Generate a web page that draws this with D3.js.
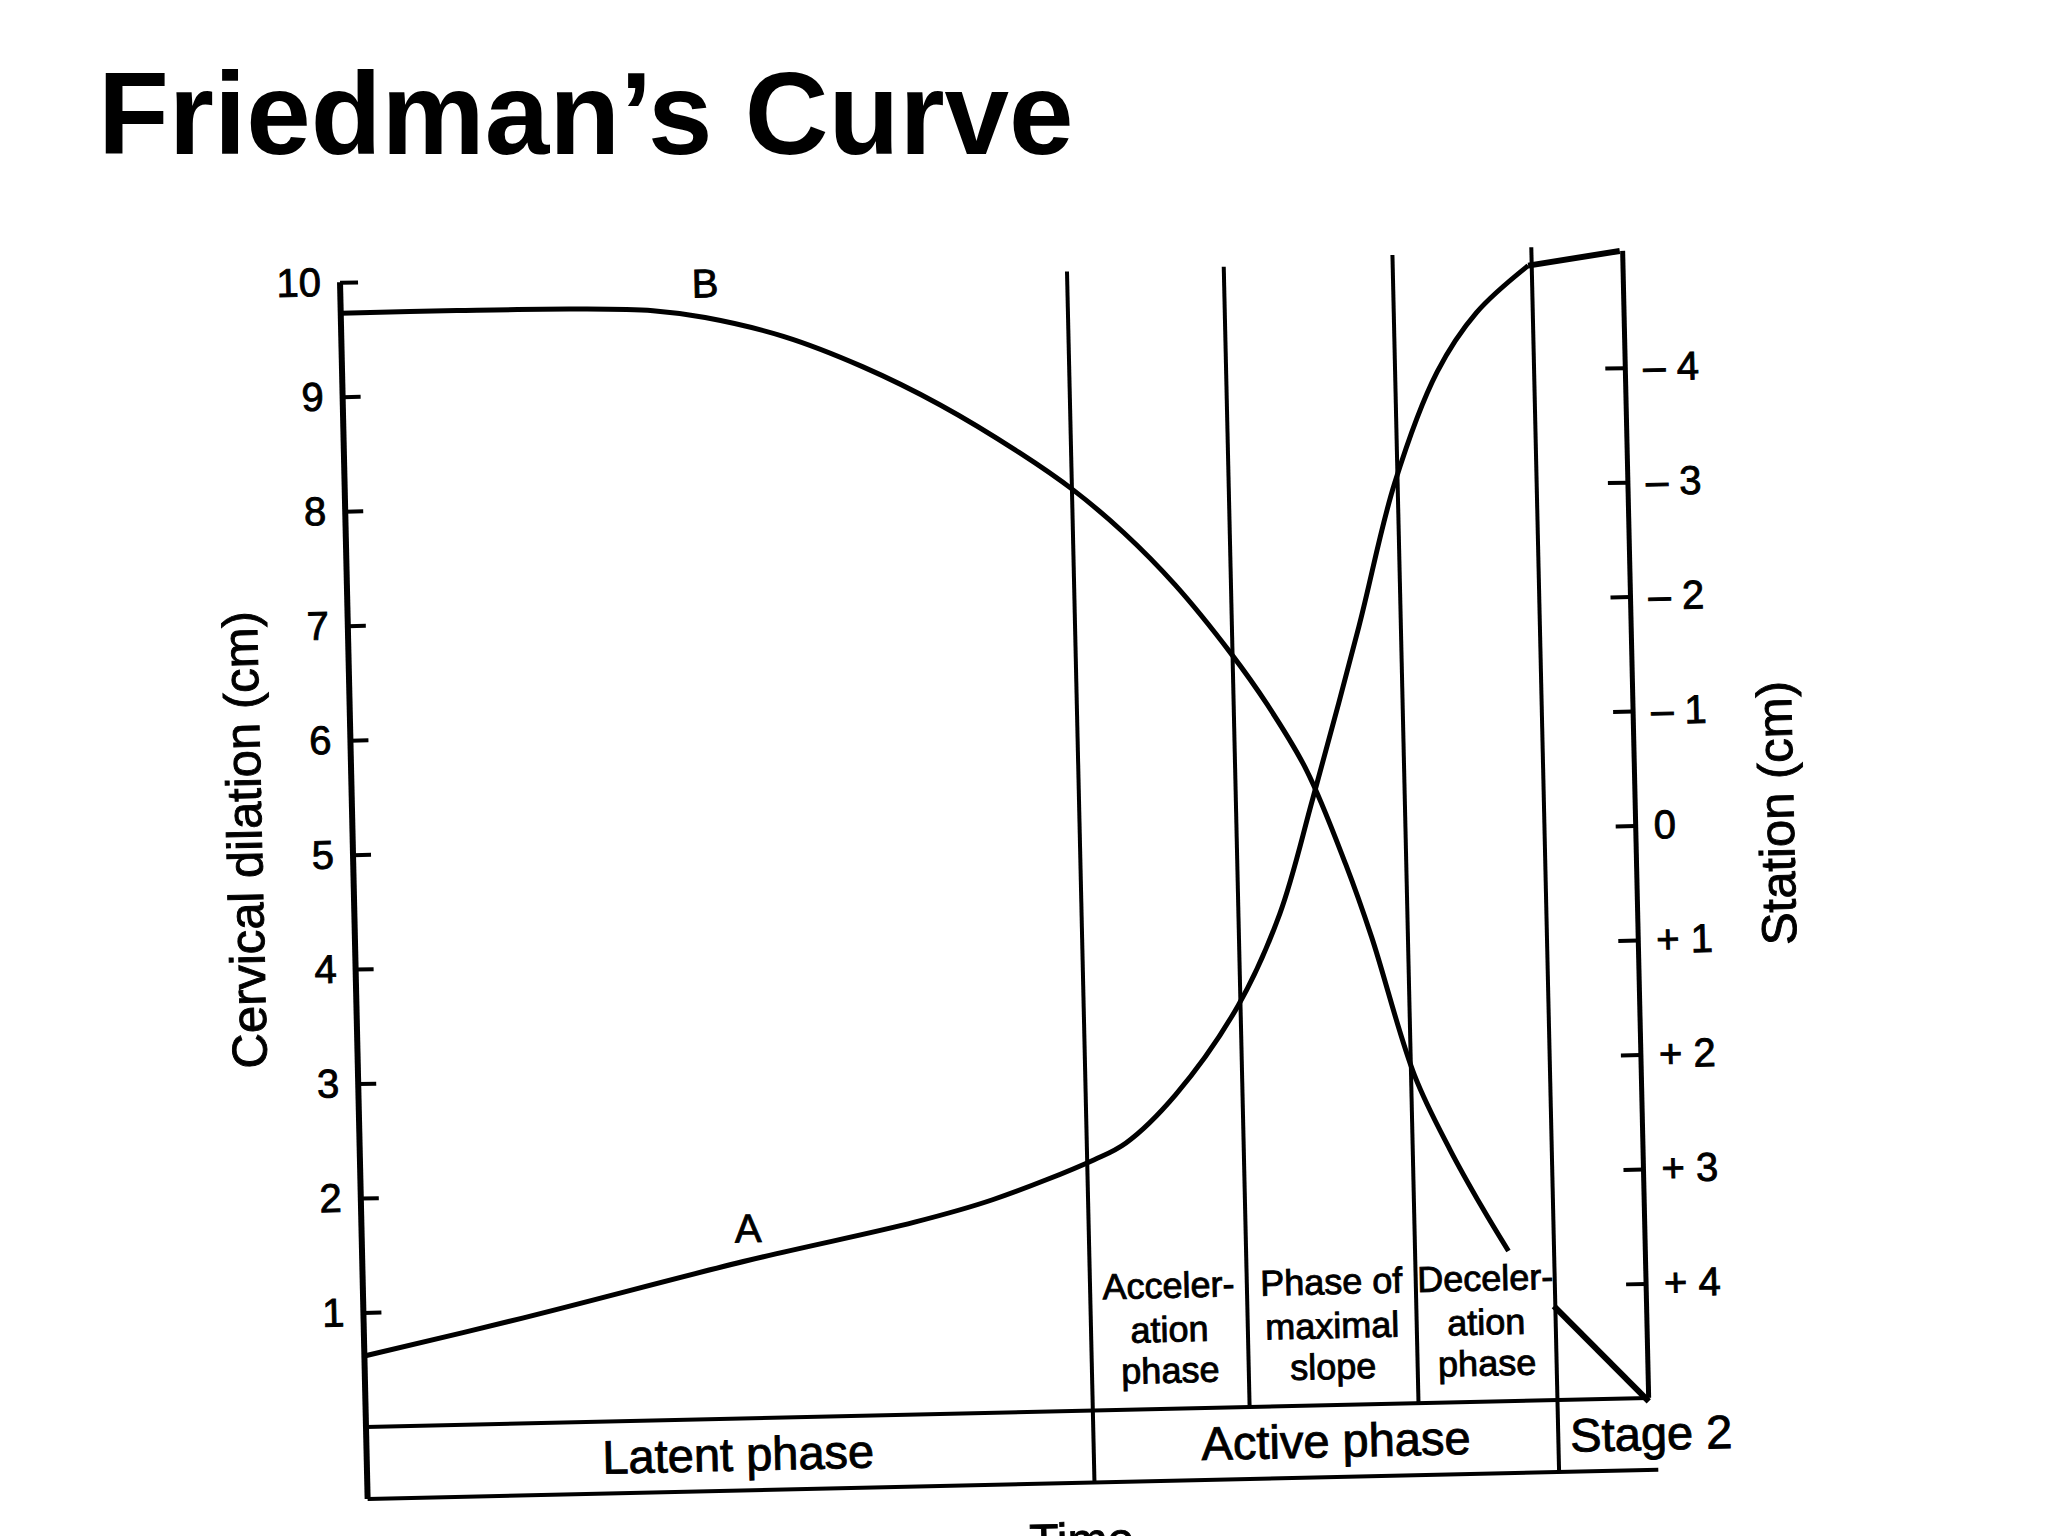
<!DOCTYPE html>
<html>
<head>
<meta charset="utf-8">
<script src="https://cdn.jsdelivr.net/npm/d3@7"></script>
<style>
  body { margin: 0; background: #fff; }
  text { font-family: "Liberation Sans", Arial, sans-serif; fill: #000; }
  .scan text { stroke: #000; stroke-width: 0.9px; }
</style>
</head>
<body>
<div id="chart"></div>
<script>
// Curve A: cervical dilation (cm) against time (h)
var curveATime = [0, 2.23, 5.42, 7.76, 8.86, 10.3, 10.75, 11.46, 12.37, 12.98, 13.48, 14.18, 14.73, 15.36, 15.93, 16.67, 17.96];
var curveADilation = [0.62, 0.92, 1.38, 1.68, 1.86, 2.19, 2.33, 2.74, 3.51, 4.30, 5.30, 6.79, 8.04, 9.0, 9.51, 9.91, 10.02];

// Curve B: station (cm) against time (h)
var curveBTime = [0, 1.63, 3.28, 4.38, 5.11, 6.2, 7.3, 8.38, 9.47, 10.22, 10.91, 11.62, 12.37, 12.87, 13.4, 13.92, 14.26, 14.82, 15.29, 15.73, 16.08];
var curveBStation = [-4.73, -4.73, -4.72, -4.69, -4.62, -4.44, -4.16, -3.81, -3.38, -3.04, -2.66, -2.19, -1.59, -1.13, -0.55, 0.28, 0.92, 2.14, 2.79, 3.31, 3.69];

// descent during stage 2
var stage2Time = [16.7, 18];
var stage2Station = [4.18, 5.03];

// phase boundaries
var phaseTimes = [10.2, 12.4, 14.77, 16.72];
var phaseTops = [9.95, 9.96, 10.03, 10.07];
var phaseThroughBand = [true, false, false, true];

var subPhaseLabels = [["Acceler-", "ation", "phase"], ["Phase of", "maximal", "slope"], ["Deceler-", "ation", "phase"]];
var bandLabels = ["Latent phase", "Active phase", "Stage 2"];

var dilationTicks = [1, 2, 3, 4, 5, 6, 7, 8, 9, 10];
var stationTicks = [-4, -3, -2, -1, 0, 1, 2, 3, 4];
var stationTickLabels = ["\u2013 4", "\u2013 3", "\u2013 2", "\u2013 1", "0", "+ 1", "+ 2", "+ 3", "+ 4"];

function init() {
    var W = 2048, H = 1536;
    var plotW = 1283, plotH = 1145, bandH = 72;

    var svg = d3.select("#chart").append("svg")
        .attr("width", W)
        .attr("height", H);

    svg.append("rect").attr("width", W).attr("height", H).attr("fill", "#fff");

    svg.append("text")
        .attr("x", 98)
        .attr("y", 154)
        .style("font-size", "116px")
        .style("font-weight", "bold")
        .text("Friedman\u2019s Curve");

    // scanned figure sits slightly tilted
    var g = svg.append("g")
        .attr("class", "scan")
        .attr("transform", "translate(366,1427) rotate(-1.3)");

    var x = d3.scaleLinear().domain([0, 18]).range([0, plotW]);
    var y = d3.scaleLinear().domain([0, 10]).range([0, -plotH]);
    var yStation = d3.scaleLinear().domain([5, -5]).range([0, -plotH]);

    // band below the chart
    g.append("line")
        .attr("x1", x(0)).attr("y1", y(0))
        .attr("x2", x(18)).attr("y2", y(0))
        .attr("stroke", "#000").attr("stroke-width", 4);
    g.append("line")
        .attr("x1", x(0)).attr("y1", bandH)
        .attr("x2", x(18) + 8).attr("y2", bandH)
        .attr("stroke", "#000").attr("stroke-width", 4);

    // left axis
    var left = g.append("g")
        .call(d3.axisLeft(y).tickValues(dilationTicks).tickSize(-18).tickPadding(19).tickFormat(d3.format("d")));
    left.select(".domain").remove();
    left.selectAll(".tick line").attr("stroke", "#000").attr("stroke-width", 4);
    left.selectAll(".tick text").style("font-size", "40px").attr("fill", "#000");
    left.attr("font-family", null).attr("font-size", null);

    g.append("line")
        .attr("x1", x(0)).attr("y1", y(10))
        .attr("x2", x(0)).attr("y2", bandH)
        .attr("stroke", "#000").attr("stroke-width", 6);

    // right axis
    var right = g.append("g")
        .attr("transform", "translate(" + x(18) + ",0)")
        .call(d3.axisRight(yStation).tickValues(stationTicks).tickSize(-20).tickPadding(18)
            .tickFormat(function(d, i) { return stationTickLabels[i]; }));
    right.select(".domain").remove();
    right.selectAll(".tick line").attr("stroke", "#000").attr("stroke-width", 4);
    right.selectAll(".tick text").style("font-size", "40px").attr("fill", "#000");
    right.attr("font-family", null).attr("font-size", null);

    g.append("line")
        .attr("x1", x(18)).attr("y1", y(curveADilation[curveADilation.length - 1]))
        .attr("x2", x(18)).attr("y2", y(0))
        .attr("stroke", "#000").attr("stroke-width", 5);

    // phase lines
    phaseTimes.forEach(function(t, i) {
        g.append("line")
            .attr("x1", x(t)).attr("y1", y(phaseTops[i]))
            .attr("x2", x(t)).attr("y2", phaseThroughBand[i] ? bandH : y(0))
            .attr("stroke", "#000").attr("stroke-width", 4);
    });

    // curve A
    var ptsA = curveATime.map(function(t, i) { return [x(t), y(curveADilation[i])]; });
    var smooth = d3.line().curve(d3.curveCatmullRom.alpha(0.5));
    g.append("path")
        .attr("d", smooth(ptsA.slice(0, 16)))
        .attr("fill", "none").attr("stroke", "#000").attr("stroke-width", 5);
    g.append("path")
        .attr("d", d3.line()(ptsA.slice(15)))
        .attr("fill", "none").attr("stroke", "#000").attr("stroke-width", 6);

    // curve B
    var ptsB = curveBTime.map(function(t, i) { return [x(t), yStation(curveBStation[i])]; });
    g.append("path")
        .attr("d", smooth(ptsB))
        .attr("fill", "none").attr("stroke", "#000").attr("stroke-width", 5);
    var pts2 = stage2Time.map(function(t, i) { return [x(t), yStation(stage2Station[i])]; });
    g.append("path")
        .attr("d", d3.line()(pts2))
        .attr("fill", "none").attr("stroke", "#000").attr("stroke-width", 6);

    // curve labels
    g.append("text")
        .attr("x", x(5.42)).attr("y", y(1.66))
        .attr("text-anchor", "middle").attr("dy", "0.35em")
        .style("font-size", "40px").text("A");
    g.append("text")
        .attr("x", x(5.12)).attr("y", y(9.92))
        .attr("text-anchor", "middle").attr("dy", "0.35em")
        .style("font-size", "40px").text("B");

    // sub-phase labels
    var baselines = [-111, -67, -26];
    subPhaseLabels.forEach(function(lines, i) {
        var cx = (x(phaseTimes[i]) + x(phaseTimes[i + 1])) / 2;
        lines.forEach(function(s, j) {
            g.append("text")
                .attr("x", cx).attr("y", baselines[j])
                .attr("text-anchor", "middle")
                .style("font-size", "36px")
                .text(s);
        });
    });

    // band labels
    g.append("text")
        .attr("x", (x(0) + x(phaseTimes[0])) / 2 + 8).attr("y", bandH / 2 + 16)
        .attr("text-anchor", "middle").style("font-size", "47px")
        .text(bandLabels[0]);
    g.append("text")
        .attr("x", (x(phaseTimes[0]) + x(phaseTimes[3])) / 2 + 10).attr("y", bandH / 2 + 16)
        .attr("text-anchor", "middle").style("font-size", "47px")
        .text(bandLabels[1]);
    g.append("text")
        .attr("x", x(phaseTimes[3]) + 12).attr("y", bandH / 2 + 16)
        .attr("text-anchor", "start").style("font-size", "47px")
        .text(bandLabels[2]);

    // axis titles
    g.append("text")
        .attr("transform", "translate(-108," + y(5.15) + ") rotate(-90)")
        .attr("text-anchor", "middle").attr("dy", "0.35em")
        .style("font-size", "49px")
        .text("Cervical dilation (cm)");
    g.append("text")
        .attr("transform", "translate(" + (x(18) + 141) + "," + y(5.08) + ") rotate(-90)")
        .attr("text-anchor", "middle").attr("dy", "0.35em")
        .style("font-size", "49px")
        .text("Station (cm)");
    g.append("text")
        .attr("x", 713).attr("y", 146)
        .attr("text-anchor", "middle")
        .style("font-size", "48px")
        .text("Time");
}
init();
</script>
</body>
</html>
